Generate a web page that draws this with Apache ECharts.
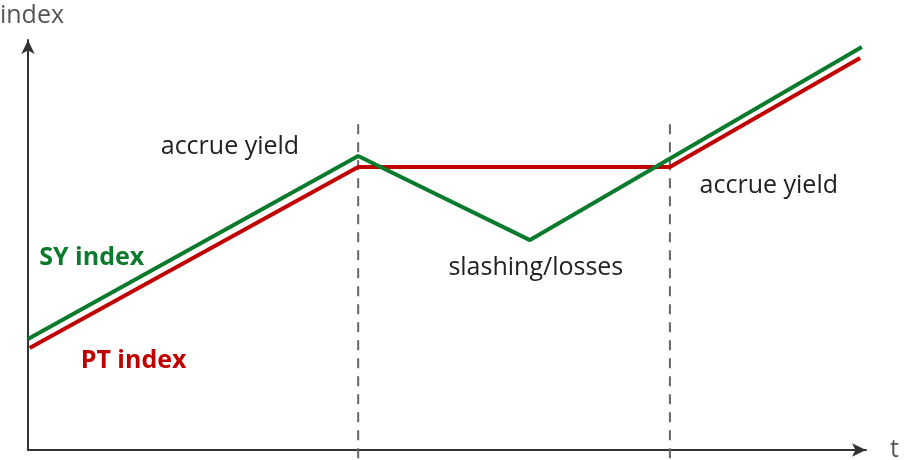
<!DOCTYPE html>
<html>
<head>
<meta charset="utf-8">
<script src="https://cdn.jsdelivr.net/npm/echarts@6/dist/echarts.min.js"></script>
<style>
html,body{margin:0;padding:0;background:#fff;}
#c{width:905px;height:460px;}
</style>
</head>
<body>
<div id="c"></div>
<script>
// Data (arbitrary units: t 0..100, index 0..100)
const syIndex = [[0, 27.1], [39.4, 71.7], [59.9, 51.2], [99.5, 98.3]];
const ptIndex = [[0.2, 24.9], [39.4, 69.0], [76.6, 69.0], [99.3, 95.6]];
const phaseBoundaries = [39.4, 76.6];
const boundaryRange = [-2.0, 80.0];
const annotationTexts = ['accrue yield', 'SY index', 'PT index', 'slashing/losses', 'accrue yield'];
const annotationX = [24.1, 7.6, 12.6, 60.6, 88.4];
const annotationY = [73.9, 46.8, 21.7, 44.4, 64.4];

const GREEN = '#0a7a2c';
const RED = '#c00000';
const FONT = 'Open Sans';

const annStyles = [
  {color: '#222', fontWeight: 'normal'},
  {color: GREEN, fontWeight: 'bold'},
  {color: RED, fontWeight: 'bold'},
  {color: '#222', fontWeight: 'normal'},
  {color: '#222', fontWeight: 'normal'}
];

const chart = echarts.init(document.getElementById('c'), null, {renderer: 'canvas'});

const boundarySeries = phaseBoundaries.map(function (x, i) {
  return {
    name: 'boundary' + i,
    type: 'line',
    data: [[x, boundaryRange[0]], [x, boundaryRange[1]]],
    symbol: 'none',
    clip: false,
    silent: true,
    z: 1,
    lineStyle: {color: '#666', width: 2, type: [10, 8]}
  };
});

const option = {
  animation: false,
  backgroundColor: '#fff',
  textStyle: {fontFamily: FONT},
  grid: {left: 28, right: 39, top: 40, bottom: 10, containLabel: false, outerBoundsMode: 'none'},
  xAxis: {
    type: 'value', min: 0, max: 100,
    name: 't', nameLocation: 'end', nameGap: 24,
    nameTextStyle: {fontFamily: FONT, fontSize: 25, color: '#555'},
    axisLine: {show: true, symbol: ['none', 'arrow'], symbolSize: [10, 14],
      lineStyle: {color: '#333', width: 2}},
    axisTick: {show: false}, axisLabel: {show: false}, splitLine: {show: false}
  },
  yAxis: {
    type: 'value', min: 0, max: 100,
    name: 'index', nameLocation: 'end', nameGap: 12,
    nameTextStyle: {fontFamily: FONT, fontSize: 25, color: '#555', align: 'center', padding: [0, 0, 0, 8]},
    axisLine: {show: true, symbol: ['none', 'arrow'], symbolSize: [10, 14],
      lineStyle: {color: '#333', width: 2}},
    axisTick: {show: false}, axisLabel: {show: false}, splitLine: {show: false}
  },
  series: boundarySeries.concat([
    {
      name: 'PT index', type: 'line', data: ptIndex, symbol: 'none', z: 3,
      lineStyle: {color: RED, width: 4}
    },
    {
      name: 'SY index', type: 'line', data: syIndex, symbol: 'none', z: 4,
      lineStyle: {color: GREEN, width: 4}
    },
    {
      name: 'annotations', type: 'scatter', symbolSize: 0, silent: true, z: 5,
      itemStyle: {opacity: 1},
      data: annotationTexts.map(function (t, i) {
        return {
          value: [annotationX[i], annotationY[i]], name: t,
          label: {
            show: true, position: 'inside', formatter: t,
            fontFamily: FONT, fontSize: 25, opacity: 1,
            color: annStyles[i].color, fontWeight: annStyles[i].fontWeight
          }
        };
      })
    }
  ])
};
chart.setOption(option);
</script>
</body>
</html>
